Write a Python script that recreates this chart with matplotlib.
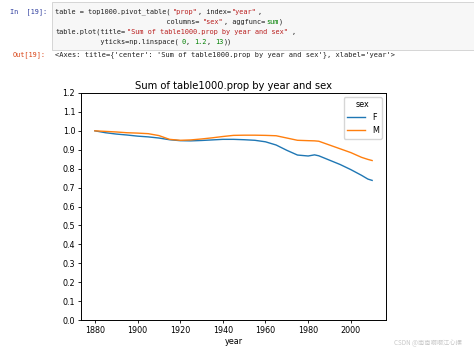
import numpy as np
import matplotlib
matplotlib.use('Agg')
import matplotlib.pyplot as plt
from matplotlib.patches import Rectangle

# sum of top1000 prop by year
years = [1880, 1885, 1890, 1895, 1900, 1905, 1910, 1915, 1920, 1925, 1930, 1935,
         1940, 1945, 1950, 1955, 1960, 1965, 1970, 1975, 1980, 1983, 1985, 1990,
         1995, 2000, 2005, 2008, 2010]
prop_f = [1.000, 0.990, 0.983, 0.978, 0.972, 0.968, 0.962, 0.953, 0.948, 0.947, 0.949, 0.952,
          0.955, 0.955, 0.953, 0.950, 0.942, 0.925, 0.897, 0.872, 0.867, 0.873, 0.868, 0.845,
          0.822, 0.795, 0.765, 0.745, 0.738]
prop_m = [1.000, 0.997, 0.994, 0.990, 0.988, 0.985, 0.975, 0.955, 0.950, 0.952, 0.957, 0.963,
          0.970, 0.976, 0.977, 0.977, 0.976, 0.974, 0.962, 0.950, 0.948, 0.947, 0.945, 0.925,
          0.905, 0.885, 0.860, 0.849, 0.843]
yticks = np.linspace(0, 1.2, 13)

W, H = 474, 350
fig = plt.figure(figsize=(W / 100, H / 100), dpi=100)

# notebook cell
fig.patches.append(Rectangle((52 / W, 1 - 50 / H), (W - 52) / W, 48 / H, transform=fig.transFigure,
                             facecolor='#f7f7f7', edgecolor='#cfcfcf', lw=0.6))

BLK, STR, NUM = '#222222', '#ba2121', '#008000'
code = [
    (12, [('table = top1000.pivot_table(', BLK), ('"prop"', STR), (', index=', BLK), ('"year"', STR), (',', BLK)]),
    (22, [('                           columns=', BLK), ('"sex"', STR), (', aggfunc=', BLK), ('sum', NUM), (')', BLK)]),
    (32, [('table.plot(title=', BLK), ('"Sum of table1000.prop by year and sex"', STR), (',', BLK)]),
    (42, [('           yticks=np.linspace(', BLK), ('0', NUM), (', ', BLK), ('1.2', NUM), (', ', BLK), ('13', NUM), ('))', BLK)]),
]
cw = 4.22
fs = 4.95
for ypx, segs in code:
    col = 0
    for s, c in segs:
        fig.text((55 + col * cw) / W, 1 - ypx / H, s, color=c, family='DejaVu Sans Mono',
                 fontsize=fs, va='center', ha='left')
        col += len(s)

fig.text(10 / W, 1 - 12 / H, 'In  [19]:', color='#303f9f', family='DejaVu Sans Mono', fontsize=fs, va='center')
fig.text(13 / W, 1 - 55 / H, 'Out[19]:', color='#d84315', family='DejaVu Sans Mono', fontsize=fs, va='center')
fig.text(55 / W, 1 - 55 / H, "<Axes: title={'center': 'Sum of table1000.prop by year and sex'}, xlabel='year'>",
         color=BLK, family='DejaVu Sans Mono', fontsize=5.0, va='center')

ax = fig.add_axes([81 / W, 1 - 320 / H, (386 - 81) / W, (320 - 93) / H])
ax.plot(years, prop_f, color='tab:blue', lw=1.0, label='F')
ax.plot(years, prop_m, color='tab:orange', lw=1.0, label='M')
ax.set_xlim(1873.5, 2016.5)
ax.set_ylim(0, 1.2)
ax.set_yticks(yticks)
ax.set_yticklabels(['%.1f' % t for t in yticks])
ax.set_xticks([1880, 1900, 1920, 1940, 1960, 1980, 2000])
ax.tick_params(labelsize=5.8, length=2.2, width=0.6, pad=2)
for sp in ax.spines.values():
    sp.set_linewidth(0.7)
ax.set_title('Sum of table1000.prop by year and sex', fontsize=7.2, pad=3)
ax.set_xlabel('year', fontsize=5.8, labelpad=1.5)
leg = ax.legend(title='sex', fontsize=5.8, title_fontsize=5.8, loc='upper right', handlelength=2.3)

fig.text(462 / W, 1 - 343 / H, 'CSDN @南南啊啊江心摆', color='#c8c8c8', fontsize=4.5, ha='right', va='center',
         family=['Noto Sans CJK SC', 'DejaVu Sans'])

fig.savefig('out.png', dpi=100)
